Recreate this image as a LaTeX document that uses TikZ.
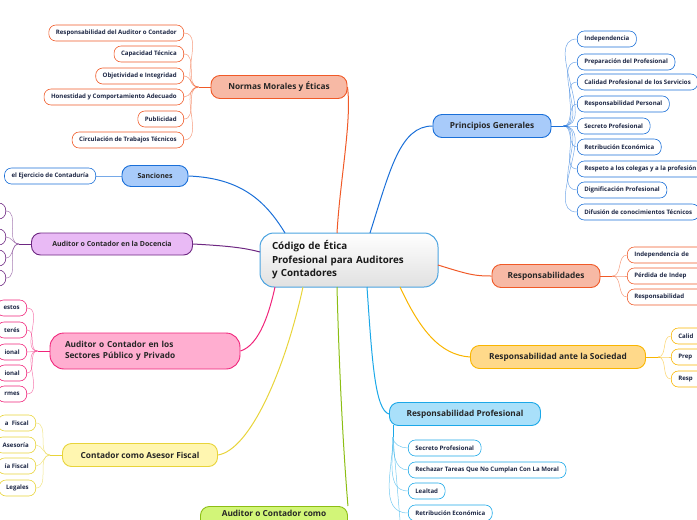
\documentclass[tikz,border=0pt]{standalone}
\usepackage{fontspec}
\setmainfont{Open Sans}[BoldFont={* Bold}]
\begin{document}
\begin{tikzpicture}[x=1pt,y=-1pt,
  mainb/.style={draw,line width=0.9pt,rounded corners=9pt,font=\bfseries\fontsize{8.3}{10.5}\selectfont,text=black!85,inner xsep=10pt,minimum height=23pt},
  leaf/.style={draw,fill=white,line width=0.6pt,rounded corners=7pt,font=\bfseries\fontsize{6.1}{7}\selectfont,text={rgb,255:red,30;green,40;blue,70},inner xsep=7pt,minimum height=16pt,inner ysep=0pt},
  con/.style={line width=1pt},
  sub/.style={line width=0.5pt,opacity=0.6}]
\definecolor{orc}{RGB}{240,90,40}\definecolor{orf}{RGB}{247,185,165}
\definecolor{blc}{RGB}{26,111,216}\definecolor{blf}{RGB}{168,203,250}
\definecolor{puc}{RGB}{110,40,130}\definecolor{puf}{RGB}{233,186,245}
\definecolor{pkc}{RGB}{240,36,122}\definecolor{pkf}{RGB}{255,174,208}
\definecolor{yec}{RGB}{232,212,58}\definecolor{yef}{RGB}{255,246,176}
\definecolor{grc}{RGB}{140,190,20}\definecolor{grf}{RGB}{210,245,120}
\definecolor{goc}{RGB}{249,181,0}\definecolor{gof}{RGB}{255,217,138}
\definecolor{cyc}{RGB}{27,168,232}\definecolor{cyf}{RGB}{169,224,250}
\definecolor{cec}{RGB}{75,163,224}
\useasboundingbox (0,0) rectangle (697,520);
\clip (0,0) rectangle (697,520);
% center
\node[draw=cec,line width=1pt,rounded corners=14pt,top color=white,bottom color=black!12,minimum width=178pt,minimum height=54pt,align=left,font=\bfseries\fontsize{9.8}{13.5}\selectfont,text=black!90,text width=154pt] (c) at (349,260) {Código de Ética\\Profesional para Auditores\\y Contadores};
% main nodes
\node[mainb,draw=orc,fill=orf,minimum width=136pt] (nm) at (279,87) {Normas Morales y Éticas};
\node[mainb,draw=blc,fill=blf,minimum width=66pt,minimum height=21pt,font=\bfseries\fontsize{7}{9}\selectfont] (sa) at (155,176) {Sanciones};
\node[mainb,draw=puc,fill=puf,minimum width=161pt,minimum height=22pt,font=\bfseries\fontsize{7}{9}\selectfont] (do) at (112,244) {Auditor o Contador en la Docencia};
\node[mainb,draw=pkc,fill=pkf,minimum width=183pt,minimum height=36pt,align=left,rounded corners=14pt,text width=160pt,inner xsep=15pt] (se) at (145,351) {Auditor o Contador en los\\Sectores Público y Privado};
\node[mainb,draw=yec,fill=yef,minimum width=155pt] (fi) at (140,455) {Contador como Asesor Fiscal};
\node[mainb,draw=grc,fill=grf,minimum width=147pt,anchor=north,align=center] (ac) at (274,506) {Auditor o Contador como\\\strut};
\node[mainb,draw=blc,fill=blf,minimum width=118pt] (pg) at (492,126) {Principios Generales};
\node[mainb,draw=orc,fill=orf,minimum width=108pt] (rs) at (546,276) {Responsabilidades};
\node[mainb,draw=goc,fill=gof,minimum width=175pt] (so) at (558,357) {Responsabilidad ante la Sociedad};
\node[mainb,draw=cyc,fill=cyf,minimum width=151pt] (rp) at (465,414) {Responsabilidad Profesional};
% main connectors
\draw[con,orc] (337,233) .. controls (340,180) and (352,120) .. (nm.east);
\draw[con,blc] (370,233) .. controls (390,170) and (400,126) .. (pg.west);
\draw[con,blc] (sa.east) .. controls (240,178) and (265,200) .. (285,233);
\draw[con,puc] (do.east) .. controls (230,246) and (245,248) .. (260,252);
\draw[con,pkc] (se.east) .. controls (260,345) and (270,310) .. (275,287);
\draw[con,yec] (fi.east) .. controls (250,450) and (285,370) .. (303,287);
\draw[con,grc] (337,287) .. controls (340,400) and (345,470) .. (ac.north east);
\draw[con,orc] (438,265) .. controls (470,275) and (475,276) .. (rs.west);
\draw[con,goc] (400,287) .. controls (420,330) and (440,355) .. (so.west);
\draw[con,cyc] (367,287) .. controls (372,360) and (375,410) .. (rp.west);
% Normas leaves
\foreach \t/\y [count=\i] in {Responsabilidad del Auditor o Contador/33,Capacidad Técnica/54,Objetividad e Integridad/76,Honestidad y Comportamiento Adecuado/97,Publicidad/119,Circulación de Trabajos Técnicos/140}{
  \node[leaf,draw=orc,anchor=east] (n\i) at (184,\y) {\t};
  \draw[sub,orc] (nm.west)++(-12,0) to[out=180,in=0] (n\i.east);}
\draw[con,orc] (nm.west) -- ++(-12,0);
% Sanciones leaf
\node[leaf,draw=blc,anchor=east] (s1) at (96,176) {el Ejercicio de Contaduría};
\draw[sub,blc] (s1.east) -- (sa.west);
% Docencia leaves
\foreach \y [count=\i] in {211,237,258,278}{
  \node[leaf,draw=puc,anchor=east,minimum width=30pt] (d\i) at (6,\y) {};
  \draw[sub,puc] (do.west)++(-12,0) to[out=180,in=0] (d\i.east);}
\draw[con,puc] (do.west) -- ++(-12,0);
% Sectores leaves
\foreach \t/\y [count=\i] in {estos/308,terés/330,ional/352,ional/373,rmes/394}{
  \node[leaf,draw=pkc,anchor=east] (p\i) at (27,\y) {\t};
  \draw[sub,pkc] (se.west)++(-12,0) to[out=180,in=0] (p\i.east);}
\draw[con,pkc] (se.west) -- ++(-12,0);
% Fiscal leaves
\foreach \t/\y [count=\i] in {a\ \ Fiscal/423,Asesoría/445,ía Fiscal/466,Legales/488}{
  \node[leaf,draw=yec,anchor=east] (f\i) at (36,\y) {\t};
  \draw[sub,yec] (fi.west)++(-12,0) to[out=180,in=0] (f\i.east);}
\draw[con,yec] (fi.west) -- ++(-12,0);
% Principios leaves
\foreach \t/\y [count=\i] in {Independencia/39,Preparación del Profesional/62,Calidad Profesional de los Servicios/82,Responsabilidad Personal/104,Secreto Profesional/126,Retribución Económica/147,Respeto a los colegas y a la profesión/169,Dignificación Profesional/190,Difusión de conocimientos Técnicos/212}{
  \node[leaf,draw=blc,anchor=west] (g\i) at (577,\y) {\t};
  \draw[sub,blc] (pg.east)++(12,0) to[out=0,in=180] (g\i.west);}
\draw[con,blc] (pg.east) -- ++(12,0);
% Responsabilidades leaves
\foreach \t/\y [count=\i] in {Independencia de/255,Pérdida de Indep/276,Responsabilidad/297}{
  \node[leaf,draw=orc,anchor=west,minimum width=90pt,align=left,text width=76pt] (r\i) at (627,\y) {\t};
  \draw[sub,orc] (rs.east)++(12,0) to[out=0,in=180] (r\i.west);}
\draw[con,orc] (rs.east) -- ++(12,0);
% Sociedad leaves
\foreach \t/\y [count=\i] in {Calid/336,Prep/357,Resp/379}{
  \node[leaf,draw=goc,anchor=west,minimum width=50pt,align=left,text width=36pt] (o\i) at (671,\y) {\t};
  \draw[sub,goc] (so.east)++(12,0) to[out=0,in=180] (o\i.west);}
\draw[con,goc] (so.east) -- ++(12,0);
% Resp Profesional leaves
\foreach \t/\y [count=\i] in {Secreto Profesional/448,Rechazar Tareas Que No Cumplan Con La Moral/470,Lealtad/491,Retribución Económica/513}{
  \node[leaf,draw=cyc,anchor=west] (q\i) at (408,\y) {\t};
  \draw[sub,cyc] (393,437) to[out=-90,in=180] (q\i.west);}
\draw[con,cyc] (393,425) -- (393,437);
\draw[sub,cyc] (393,437) -- (400,520);
\end{tikzpicture}
\end{document}
